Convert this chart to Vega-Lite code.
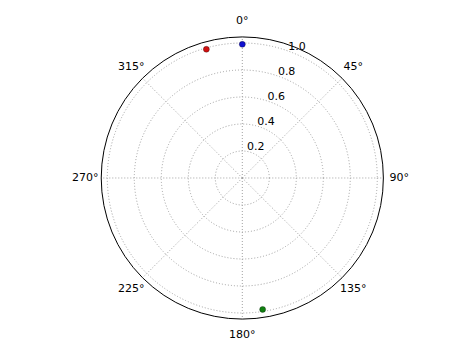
{
  "$schema": "https://vega.github.io/schema/vega-lite/v6.json",
  "width": 474,
  "height": 355,
  "padding": 0,
  "autosize": {"type": "none"},
  "background": "white",
  "config": {"view": {"stroke": null}, "axis": {"disable": true}},
  "layer": [
    {
      "data": {"values": [{"r": 0.2}, {"r": 0.4}, {"r": 0.6}, {"r": 0.8}, {"r": 1.0}]},
      "mark": {"type": "point", "shape": "circle", "filled": false, "stroke": "#a0a0a0", "strokeWidth": 1, "strokeDash": [1, 2], "opacity": 1},
      "encoding": {
        "x": {"datum": 0, "type": "quantitative", "scale": {"domain": [-1.7948, 1.7163], "nice": false, "zero": false}, "axis": null},
        "y": {"datum": 0, "type": "quantitative", "scale": {"domain": [-1.3111, 1.3185], "nice": false, "zero": false}, "axis": null},
        "size": {"field": "r", "type": "quantitative", "scale": {"type": "pow", "exponent": 2, "domain": [0, 1], "range": [0, 72900]}, "legend": null}
      }
    },
    {
      "data": {"values": [{"theta": 0}, {"theta": 45}, {"theta": 90}, {"theta": 135}, {"theta": 180}, {"theta": 225}, {"theta": 270}, {"theta": 315}]},
      "transform": [
        {"calculate": "1.045*sin(datum.theta*PI/180)", "as": "x"},
        {"calculate": "1.045*cos(datum.theta*PI/180)", "as": "y"},
        {"calculate": "0", "as": "o"}
      ],
      "mark": {"type": "rule", "stroke": "#a0a0a0", "strokeWidth": 1, "strokeDash": [1, 2]},
      "encoding": {
        "x": {"field": "o", "type": "quantitative"},
        "y": {"field": "o", "type": "quantitative"},
        "x2": {"field": "x"},
        "y2": {"field": "y"}
      }
    },
    {
      "data": {"values": [{"r": 1.045}]},
      "mark": {"type": "point", "shape": "circle", "filled": false, "stroke": "black", "strokeWidth": 1, "opacity": 1},
      "encoding": {
        "x": {"datum": 0, "type": "quantitative"},
        "y": {"datum": 0, "type": "quantitative"},
        "size": {"field": "r", "type": "quantitative", "legend": null}
      }
    },
    {
      "data": {"values": [
        {"series": "a", "theta": 0, "r": 0.99},
        {"series": "b", "theta": 344.4, "r": 0.99},
        {"series": "c", "theta": 171.2, "r": 0.985}
      ]},
      "transform": [
        {"calculate": "datum.r*sin(datum.theta*PI/180)", "as": "x"},
        {"calculate": "datum.r*cos(datum.theta*PI/180)", "as": "y"}
      ],
      "mark": {"type": "circle", "size": 36, "opacity": 1, "stroke": "#000000", "strokeWidth": 0.3},
      "encoding": {
        "x": {"field": "x", "type": "quantitative"},
        "y": {"field": "y", "type": "quantitative"},
        "color": {"field": "series", "type": "nominal", "scale": {"domain": ["a", "b", "c"], "range": ["#1010d0", "#d01010", "#108010"]}, "legend": null}
      }
    },
    {
      "data": {"values": [
        {"theta": 0, "label": "0°"}, {"theta": 45, "label": "45°"}, {"theta": 90, "label": "90°"},
        {"theta": 135, "label": "135°"}, {"theta": 180, "label": "180°"}, {"theta": 225, "label": "225°"},
        {"theta": 270, "label": "270°"}, {"theta": 315, "label": "315°"}
      ]},
      "transform": [
        {"calculate": "1.163*sin(datum.theta*PI/180)", "as": "x"},
        {"calculate": "1.163*cos(datum.theta*PI/180)", "as": "y"}
      ],
      "mark": {"type": "text", "font": "DejaVu Sans", "fontSize": 11, "color": "black", "align": "center", "baseline": "middle"},
      "encoding": {
        "x": {"field": "x", "type": "quantitative"},
        "y": {"field": "y", "type": "quantitative"},
        "text": {"field": "label"}
      }
    },
    {
      "data": {"values": [
        {"r": 0.2, "label": "0.2"}, {"r": 0.4, "label": "0.4"}, {"r": 0.6, "label": "0.6"},
        {"r": 0.8, "label": "0.8"}, {"r": 1.0, "label": "1.0"}
      ]},
      "transform": [
        {"calculate": "datum.r*sin(22.5*PI/180)", "as": "x"},
        {"calculate": "datum.r*cos(22.5*PI/180)", "as": "y"}
      ],
      "mark": {"type": "text", "font": "DejaVu Sans", "fontSize": 11, "color": "black", "align": "center", "baseline": "middle", "dx": 3, "dy": -6.5},
      "encoding": {
        "x": {"field": "x", "type": "quantitative"},
        "y": {"field": "y", "type": "quantitative"},
        "text": {"field": "label"}
      }
    }
  ]
}
